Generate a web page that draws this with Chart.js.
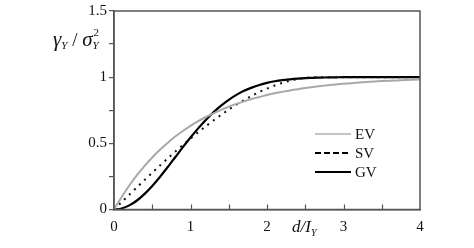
<!DOCTYPE html>
<html>
<head>
<meta charset="utf-8">
<script src="https://cdn.jsdelivr.net/npm/chart.js@4/dist/chart.umd.min.js"></script>
<style>
html,body{margin:0;padding:0;background:#fff;}
#wrap{width:474px;height:248px;position:relative;}
</style>
</head>
<body>
<div id="wrap"><canvas id="c" width="474" height="248"></canvas></div>
<script>
// d / I_Y values
const distances = [0,0.1,0.2,0.3,0.4,0.5,0.6,0.7,0.8,0.9,1.0,1.1,1.2,1.3,1.4,1.5,1.6,1.7,1.8,1.9,2.0,2.1,2.2,2.3,2.4,2.5,2.6,2.7,2.8,2.9,3.0,3.2,3.4,3.6,3.8,4.0];
const evValues = [0,0.095,0.181,0.259,0.330,0.393,0.451,0.503,0.551,0.593,0.632,0.667,0.699,0.727,0.753,0.777,0.798,0.817,0.835,0.850,0.865,0.878,0.889,0.900,0.909,0.918,0.926,0.933,0.939,0.945,0.950,0.959,0.967,0.973,0.978,0.982];
const svValues = [0,0.056,0.112,0.168,0.223,0.278,0.332,0.385,0.437,0.487,0.536,0.584,0.629,0.673,0.715,0.755,0.792,0.827,0.859,0.888,0.914,0.937,0.957,0.973,0.986,0.994,0.999,1,1,1,1,1,1,1,1,1];
const gvValues = [0,0.008,0.031,0.068,0.118,0.178,0.246,0.319,0.395,0.471,0.544,0.613,0.677,0.735,0.785,0.829,0.866,0.897,0.921,0.941,0.957,0.969,0.978,0.984,0.989,0.993,0.995,0.997,0.998,0.999,1,1,1,1,1,1];
const seriesLabels = ['EV','SV','GV'];
const xTickLabels = ['0','1','2','3','4'];
const yTickLabels = ['0','0.5','1','1.5'];

const pts = vals => distances.map((d,i)=>({x:d,y:vals[i]}));
const AX = '#555';
const SERIF = '"Liberation Serif","DejaVu Serif",serif';

const overlay = {
  id:'overlay',
  afterDraw(chart){
    const ctx = chart.ctx, a = chart.chartArea;
    const xs = chart.scales.x;
    ctx.save();
    // frame
    ctx.strokeStyle = AX; ctx.lineWidth = 1.5;
    ctx.strokeRect(a.left, a.top, a.right-a.left, a.bottom-a.top);
    // inward x ticks
    ctx.lineWidth = 1.2;
    for (let v=0.5; v<4; v+=0.5){
      const px = Math.round(xs.getPixelForValue(v))+0.5;
      ctx.beginPath(); ctx.moveTo(px, a.bottom); ctx.lineTo(px, a.bottom-5); ctx.stroke();
    }
    // legend
    const lx0 = 315, lx1 = 351, ly0 = 134, dy = 19;
    const dashes = [[],[6,3],[]];
    const legCol = ['#c4c4c4','#000','#000'];
    chart.data.datasets.forEach((ds,i)=>{
      const y = ly0 + i*dy;
      ctx.strokeStyle = legCol[i]; ctx.lineWidth = 2;
      ctx.setLineDash(dashes[i]);
      ctx.beginPath(); ctx.moveTo(lx0,y); ctx.lineTo(lx1,y); ctx.stroke();
      ctx.setLineDash([]);
      ctx.fillStyle = '#111'; ctx.font = '15px '+SERIF;
      ctx.textBaseline = 'middle'; ctx.textAlign='left';
      ctx.fillText(ds.label, 355, y+1);
    });
    // y-axis title: gamma_Y / sigma_Y^2
    ctx.fillStyle = '#111'; ctx.textBaseline='alphabetic';
    let x = 53; const base = 46;
    ctx.font = 'italic 21px '+SERIF; ctx.fillText('γ', x, base); x += ctx.measureText('γ').width;
    ctx.font = 'italic 11px '+SERIF; ctx.fillText('Y', x, base+3); x += ctx.measureText('Y').width;
    ctx.font = '19px '+SERIF; ctx.fillText(' / ', x, base); x += ctx.measureText(' / ').width;
    ctx.font = 'italic 21px '+SERIF; ctx.fillText('σ', x, base); x += ctx.measureText('σ').width;
    ctx.font = '11px '+SERIF; ctx.fillText('2', x+1, base-10);
    ctx.font = 'italic 11px '+SERIF; ctx.fillText('Y', x, base+3);
    // x-axis title: d/I_Y
    x = 292; const xb = 232;
    ctx.font = 'italic 17px '+SERIF; ctx.fillText('d/I', x, xb); x += ctx.measureText('d/I').width;
    ctx.font = 'italic 10px '+SERIF; ctx.fillText('Y', x, xb+4);
    ctx.restore();
  }
};

new Chart(document.getElementById('c'), {
  type:'line',
  data:{
    datasets:[
      {label:seriesLabels[0], data:pts(evValues), borderColor:'#a8a8a8', borderWidth:2, pointRadius:0, fill:false, tension:0.3},
      {label:seriesLabels[1], data:pts(svValues), borderColor:'#111', borderWidth:2, borderDash:[2,5], pointRadius:0, fill:false, tension:0.3},
      {label:seriesLabels[2], data:pts(gvValues), borderColor:'#000', borderWidth:2.2, pointRadius:0, fill:false, tension:0.3}
    ]
  },
  options:{
    responsive:false, animation:false, maintainAspectRatio:false,
    layout:{padding:{left:0,right:54,top:7,bottom:0}},
    plugins:{legend:{display:false}, tooltip:{enabled:false}},
    scales:{
      x:{
        type:'linear', min:0, max:4,
        afterFit(s){ s.height = 38.5; },
        grid:{display:true, drawOnChartArea:false, drawTicks:false},
        border:{display:true, color:AX, width:1.5},
        ticks:{
          stepSize:0.5, padding:9, color:'#111', maxRotation:0, autoSkip:false,
          font:{family:SERIF, size:15},
          callback(v){ return Number.isInteger(v) ? xTickLabels[v] : ''; }
        }
      },
      y:{
        min:0, max:1.5,
        afterFit(s){ s.width = 114; },
        grid:{display:true, drawOnChartArea:false, drawTicks:true, tickLength:5, color:AX, lineWidth:1.2},
        border:{display:true, color:AX, width:1.5},
        ticks:{
          stepSize:0.25, padding:2, color:'#111', autoSkip:false,
          font:{family:SERIF, size:15},
          callback(v){ const k = v/0.5; return Number.isInteger(k) ? yTickLabels[k] : ''; }
        }
      }
    }
  },
  plugins:[overlay]
});
</script>
</body>
</html>
